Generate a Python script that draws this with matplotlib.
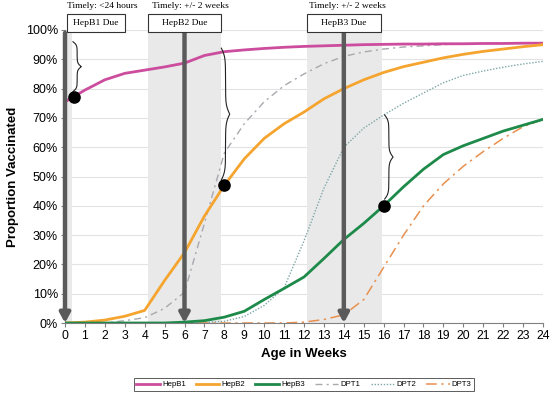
import numpy as np
import matplotlib
matplotlib.use("Agg")
import matplotlib.pyplot as plt
from matplotlib.transforms import blended_transform_factory
from matplotlib.patches import Rectangle
from matplotlib.lines import Line2D

plt.rcParams['font.family'] = ['Liberation Sans', 'DejaVu Sans']

weeks = list(range(0, 25))
hepb1 = [75.5, 79.5, 83, 85.2, 86.3, 87.4, 88.7, 91.3, 92.6, 93.2, 93.7, 94.1, 94.4,
         94.6, 94.8, 95.0, 95.1, 95.2, 95.2, 95.3, 95.3, 95.4, 95.4, 95.5, 95.5]
hepb2 = [0, 0.3, 1.0, 2.3, 4.3, 14.5, 24, 36.5, 47, 56, 63, 68, 72, 76.5, 80, 83,
         85.5, 87.5, 89, 90.5, 91.7, 92.7, 93.5, 94.3, 95]
hepb3 = [0, 0, 0, 0, 0, 0, 0.3, 0.8, 2, 4, 8, 11.8, 15.7, 22, 28.5, 34, 40, 46.5,
         52.5, 57.5, 60.5, 63, 65.5, 67.5, 69.5]
dpt1 = [0, 0, 0, 0.8, 1.8, 5, 10.5, 34, 58, 68, 75.5, 81, 85, 88.5, 91, 92.5, 93.5,
        94.2, 94.6, 95, 95.2, 95.4, 95.5, 95.6, 95.7]
dpt2 = [0, 0, 0, 0, 0, 0, 0, 0.2, 0.6, 2.2, 6, 12, 28, 46, 60, 66.5, 71, 75, 78.5,
        82, 84.5, 86, 87.3, 88.4, 89.3]
dpt3 = [0, 0, 0, 0, 0, 0, 0, 0, 0, 0, 0, 0, 0.3, 1.2, 2.8, 8, 19, 30, 40, 47.5,
        53.5, 58.5, 63, 67, 69.5]

series_names = ["HepB1", "HepB2", "HepB3", "DPT1", "DPT2", "DPT3"]

due_weeks = [0, 6, 14]
due_labels = ["HepB1 Due", "HepB2 Due", "HepB3 Due"]
timely_labels = ["Timely: <24 hours", "Timely: +/- 2 weeks", "Timely: +/- 2 weeks"]
windows = [(0, 0.35), (4.15, 7.85), (12.15, 15.9)]
boxes = [(0.1, 3.0), (4.15, 7.85), (12.15, 15.85)]
timely_x = [1.85, 6.3, 14.2]

# dots (week, value) and braces (week, top, bottom)
dots_x = [0.45, 8, 16]
dots_y = [77.3, 47, 40]
brace_x = [0.4, 7.85, 16.05]
brace_top = [96, 93.8, 71]
brace_bot = [79, 48.8, 42.3]

fig = plt.figure(figsize=(5.5, 3.96), dpi=100)
ax = fig.add_axes([65/550, 1-323/396, 478/550, 293/396])

for (a, b) in windows:
    ax.axvspan(a, b, ymin=0, ymax=0.99, color='#E9E9E9', lw=0, zorder=0.6)

ax.set_xlim(0, 24)
ax.set_ylim(0, 100)
ax.set_yticks(range(0, 101, 10))
ax.set_yticklabels([f"{v}%" for v in range(0, 101, 10)], fontsize=9)
ax.set_xticks(weeks)
ax.set_xticklabels([str(w) for w in weeks], fontsize=8.8)
ax.yaxis.grid(True, color='#E3E3E3', lw=0.8)
ax.set_axisbelow(True)
for s in ['top', 'right']:
    ax.spines[s].set_visible(False)
for s in ['left', 'bottom']:
    ax.spines[s].set_color('#808080')
ax.tick_params(axis='both', colors='#808080', labelcolor='black', length=3, width=0.8, pad=2)

ax.plot(weeks, dpt1, color='#A8A8AE', lw=1.0, ls=(0, (5, 3, 1.5, 3)), zorder=2)
ax.plot(weeks, dpt2, color='#7FA6A6', lw=1.0, ls=(0, (1, 1.2)), zorder=2)
ax.plot(weeks, dpt3, color='#E8904F', lw=1.1, ls=(0, (7, 3, 1.5, 3)), zorder=2)
ax.plot(weeks, hepb1, color='#CC4C9E', lw=2.0, zorder=3)
ax.plot(weeks, hepb2, color='#F5A52F', lw=2.0, zorder=3)
ax.plot(weeks, hepb3, color='#1E8A4A', lw=2.0, zorder=3)

for w in due_weeks:
    ax.annotate('', xy=(w, 0), xytext=(w, 99),
                arrowprops=dict(arrowstyle='-|>,head_length=0.55,head_width=0.3',
                                lw=3.2, color='#5A5A5A', shrinkA=0, shrinkB=0),
                zorder=4, annotation_clip=False)

ax.scatter(dots_x, dots_y, s=65, color='black', zorder=6, clip_on=False)


def brace(ax, x0, y_top, y_bot, w=0.42, beta=30.0):
    n = 400
    t = np.linspace(0, 0.5, n // 2)
    xh = 1 / (1 + np.exp(-beta * (t - t[0]))) + 1 / (1 + np.exp(-beta * (t - t[-1])))
    xs = np.concatenate((xh, xh[-2::-1])) - 0.5
    ts = np.linspace(0, 1, len(xs))
    ys = y_top + (y_bot - y_top) * ts
    ax.plot(x0 + xs * w, ys, color='#222222', lw=0.8, zorder=5)


for bx, bt, bb in zip(brace_x, brace_top, brace_bot):
    brace(ax, bx, bt, bb)

trans = blended_transform_factory(ax.transData, ax.transAxes)
for (a, b), lab, tl, tx in zip(boxes, due_labels, timely_labels, timely_x):
    r = Rectangle((a, 0.993), b - a, 0.062, transform=trans, facecolor='white',
                  edgecolor='#333333', lw=0.8, clip_on=False, zorder=7)
    ax.add_patch(r)
    ax.text((a + b) / 2, 1.024, lab, transform=trans, ha='center', va='center',
            fontsize=6.8, family='Liberation Serif', zorder=8)
    ax.text(tx, 1.083, tl, transform=trans, ha='center', va='center',
            fontsize=6.8, family='Liberation Serif', zorder=8)

ax.set_xlabel("Age in Weeks", fontsize=9.5, fontweight='bold', labelpad=4)
ax.set_ylabel("Proportion Vaccinated", fontsize=9.5, fontweight='bold', labelpad=5)

handles = [
    Line2D([], [], color='#CC4C9E', lw=2.0),
    Line2D([], [], color='#F5A52F', lw=2.0),
    Line2D([], [], color='#1E8A4A', lw=2.0),
    Line2D([], [], color='#A8A8AE', lw=1.0, ls=(0, (5, 3, 1.5, 3))),
    Line2D([], [], color='#7FA6A6', lw=1.0, ls=(0, (1, 1.2))),
    Line2D([], [], color='#E8904F', lw=1.1, ls=(0, (7, 3, 1.5, 3))),
]
leg = fig.legend(handles, series_names, loc='center', bbox_to_anchor=(304/550, 1-384.5/396),
                 ncol=6, fontsize=5.6, frameon=True, fancybox=False, edgecolor='#333333',
                 handlelength=3.0, handletextpad=0.3, columnspacing=1.3, borderpad=0.35)
leg.get_frame().set_linewidth(0.7)

fig.savefig("out.png", dpi=100)
